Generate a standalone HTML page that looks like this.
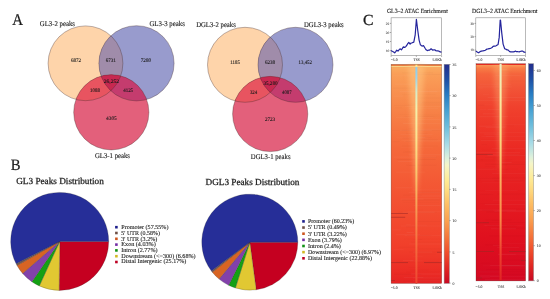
<!DOCTYPE html><html><head><meta charset="utf-8"><style>html,body{margin:0;padding:0;background:#fff;}svg{display:block;will-change:transform;filter:blur(0.3px)}</style></head><body><svg width="550" height="299" viewBox="0 0 550 299" font-family='"Liberation Serif", serif' text-rendering="geometricPrecision">
<rect width="550" height="299" fill="#fff"/>
<text x="12.3" y="25.3" font-size="16.4" fill="#1a1a1a" textLength="10.80" lengthAdjust="spacingAndGlyphs" stroke="#1a1a1a" stroke-width="0.22">A</text>
<text x="10.8" y="170.4" font-size="15.8" fill="#1a1a1a" textLength="9.80" lengthAdjust="spacingAndGlyphs" stroke="#1a1a1a" stroke-width="0.22">B</text>
<text x="363.1" y="24.5" font-size="15.4" fill="#1a1a1a" textLength="10.50" lengthAdjust="spacingAndGlyphs" stroke="#1a1a1a" stroke-width="0.3">C</text>
<defs><clipPath id="vlo"><circle cx="85.5" cy="63.3" r="37.4"/></clipPath><clipPath id="vlb"><circle cx="136.5" cy="63.3" r="37.6"/></clipPath></defs>
<circle cx="85.5" cy="63.3" r="37.4" fill="rgb(254,212,170)"/>
<circle cx="136.5" cy="63.3" r="37.6" fill="rgb(152,155,205)"/>
<circle cx="136.5" cy="63.3" r="37.6" fill="rgb(160,140,170)" clip-path="url(#vlo)"/>
<circle cx="111.3" cy="112.3" r="37.6" fill="rgb(227,96,123)"/>
<circle cx="111.3" cy="112.3" r="37.6" fill="rgb(232,84,96)" clip-path="url(#vlo)"/>
<circle cx="111.3" cy="112.3" r="37.6" fill="rgb(196,60,110)" clip-path="url(#vlb)"/>
<g clip-path="url(#vlo)"><circle cx="111.3" cy="112.3" r="37.6" fill="rgb(200,40,80)" clip-path="url(#vlb)"/></g>
<circle cx="85.5" cy="63.3" r="37.4" fill="none" stroke="rgba(70,45,45,0.6)" stroke-width="0.6"/>
<circle cx="136.5" cy="63.3" r="37.6" fill="none" stroke="rgba(70,45,45,0.6)" stroke-width="0.6"/>
<circle cx="111.3" cy="112.3" r="37.6" fill="none" stroke="rgba(70,45,45,0.6)" stroke-width="0.6"/>
<defs><clipPath id="vro"><circle cx="245" cy="64.8" r="37.5"/></clipPath><clipPath id="vrb"><circle cx="295.5" cy="64.8" r="37.5"/></clipPath></defs>
<circle cx="245" cy="64.8" r="37.5" fill="rgb(254,212,170)"/>
<circle cx="295.5" cy="64.8" r="37.5" fill="rgb(152,155,205)"/>
<circle cx="295.5" cy="64.8" r="37.5" fill="rgb(160,140,170)" clip-path="url(#vro)"/>
<circle cx="270.2" cy="114.0" r="37.6" fill="rgb(227,96,123)"/>
<circle cx="270.2" cy="114.0" r="37.6" fill="rgb(232,84,96)" clip-path="url(#vro)"/>
<circle cx="270.2" cy="114.0" r="37.6" fill="rgb(196,60,110)" clip-path="url(#vrb)"/>
<g clip-path="url(#vro)"><circle cx="270.2" cy="114.0" r="37.6" fill="rgb(200,40,80)" clip-path="url(#vrb)"/></g>
<circle cx="245" cy="64.8" r="37.5" fill="none" stroke="rgba(70,45,45,0.6)" stroke-width="0.6"/>
<circle cx="295.5" cy="64.8" r="37.5" fill="none" stroke="rgba(70,45,45,0.6)" stroke-width="0.6"/>
<circle cx="270.2" cy="114.0" r="37.6" fill="none" stroke="rgba(70,45,45,0.6)" stroke-width="0.6"/>
<text x="39.8" y="26.4" font-size="7.3" fill="#1a1a1a" textLength="35.20" lengthAdjust="spacingAndGlyphs" stroke="#1a1a1a" stroke-width="0.131">GL3-2 peaks</text>
<text x="149.4" y="26.3" font-size="7.3" fill="#1a1a1a" textLength="35.40" lengthAdjust="spacingAndGlyphs" stroke="#1a1a1a" stroke-width="0.131">GL3-3 peaks</text>
<text x="95.0" y="158.4" font-size="7.3" fill="#1a1a1a" textLength="35.00" lengthAdjust="spacingAndGlyphs" stroke="#1a1a1a" stroke-width="0.131">GL3-1 peaks</text>
<text x="196.2" y="26.8" font-size="7.3" fill="#1a1a1a" textLength="39.60" lengthAdjust="spacingAndGlyphs" stroke="#1a1a1a" stroke-width="0.131">DGL3-2 peaks</text>
<text x="304.0" y="26.8" font-size="7.3" fill="#1a1a1a" textLength="39.60" lengthAdjust="spacingAndGlyphs" stroke="#1a1a1a" stroke-width="0.131">DGL3-3 peaks</text>
<text x="250.8" y="159.0" font-size="7.3" fill="#1a1a1a" textLength="39.70" lengthAdjust="spacingAndGlyphs" stroke="#1a1a1a" stroke-width="0.131">DGL3-1 peaks</text>
<text x="70.9" y="61.7" font-size="5.4" fill="#1a1a1a" textLength="10.30" lengthAdjust="spacingAndGlyphs" stroke="#1a1a1a" stroke-width="0.097">6872</text>
<text x="105.7" y="61.7" font-size="5.4" fill="#1a1a1a" textLength="10.00" lengthAdjust="spacingAndGlyphs" stroke="#1a1a1a" stroke-width="0.097">6731</text>
<text x="140.7" y="61.9" font-size="5.4" fill="#1a1a1a" textLength="10.40" lengthAdjust="spacingAndGlyphs" stroke="#1a1a1a" stroke-width="0.097">7280</text>
<text x="103.8" y="82.6" font-size="5.4" fill="#1a1a1a" textLength="15.30" lengthAdjust="spacingAndGlyphs" stroke="#1a1a1a" stroke-width="0.097">26,252</text>
<text x="90.1" y="91.6" font-size="5.4" fill="#1a1a1a" textLength="9.90" lengthAdjust="spacingAndGlyphs" stroke="#1a1a1a" stroke-width="0.097">1088</text>
<text x="123.2" y="91.6" font-size="5.4" fill="#1a1a1a" textLength="9.90" lengthAdjust="spacingAndGlyphs" stroke="#1a1a1a" stroke-width="0.097">4125</text>
<text x="106.0" y="119.7" font-size="5.4" fill="#1a1a1a" textLength="10.80" lengthAdjust="spacingAndGlyphs" stroke="#1a1a1a" stroke-width="0.097">4305</text>
<text x="230.3" y="63.5" font-size="5.4" fill="#1a1a1a" textLength="9.70" lengthAdjust="spacingAndGlyphs" stroke="#1a1a1a" stroke-width="0.097">1185</text>
<text x="264.9" y="63.7" font-size="5.4" fill="#1a1a1a" textLength="10.20" lengthAdjust="spacingAndGlyphs" stroke="#1a1a1a" stroke-width="0.097">6238</text>
<text x="298.5" y="63.7" font-size="5.4" fill="#1a1a1a" textLength="13.50" lengthAdjust="spacingAndGlyphs" stroke="#1a1a1a" stroke-width="0.097">13,452</text>
<text x="263.5" y="84.6" font-size="5.4" fill="#1a1a1a" textLength="14.00" lengthAdjust="spacingAndGlyphs" stroke="#1a1a1a" stroke-width="0.097">35,280</text>
<text x="249.9" y="93.6" font-size="5.4" fill="#1a1a1a" textLength="7.30" lengthAdjust="spacingAndGlyphs" stroke="#1a1a1a" stroke-width="0.097">324</text>
<text x="282.0" y="93.6" font-size="5.4" fill="#1a1a1a" textLength="9.50" lengthAdjust="spacingAndGlyphs" stroke="#1a1a1a" stroke-width="0.097">4087</text>
<text x="264.9" y="121.0" font-size="5.4" fill="#1a1a1a" textLength="10.20" lengthAdjust="spacingAndGlyphs" stroke="#1a1a1a" stroke-width="0.097">2723</text>
<path d="M59.7,241.4 L108.70,241.40 A49,49 0 0 1 59.16,290.40 Z" fill="rgb(197, 0, 32)" stroke="rgba(40,40,40,0.5)" stroke-width="0.45"/>
<path d="M59.7,241.4 L59.16,290.40 A49,49 0 0 1 39.24,285.92 Z" fill="rgb(225, 200, 50)" stroke="rgba(40,40,40,0.5)" stroke-width="0.45"/>
<path d="M59.7,241.4 L39.24,285.92 A49,49 0 0 1 31.84,281.71 Z" fill="rgb(20, 160, 20)" stroke="rgba(40,40,40,0.5)" stroke-width="0.45"/>
<path d="M59.7,241.4 L31.84,281.71 A49,49 0 0 1 22.63,273.44 Z" fill="rgb(130, 65, 170)" stroke="rgba(40,40,40,0.5)" stroke-width="0.45"/>
<path d="M59.7,241.4 L22.63,273.44 A49,49 0 0 1 16.97,265.39 Z" fill="rgb(215, 100, 35)" stroke="rgba(40,40,40,0.5)" stroke-width="0.45"/>
<path d="M59.7,241.4 L16.97,265.39 A49,49 0 0 1 16.13,263.81 Z" fill="rgb(120, 90, 80)" stroke="rgba(40,40,40,0.5)" stroke-width="0.45"/>
<path d="M59.7,241.4 L16.13,263.81 A49,49 0 1 1 108.70,241.40 Z" fill="rgb(38, 46, 152)" stroke="rgba(40,40,40,0.5)" stroke-width="0.45"/>
<path d="M249.8,242.2 L297.80,242.20 A48,48 0 0 1 256.16,289.78 Z" fill="rgb(197, 0, 32)" stroke="rgba(40,40,40,0.5)" stroke-width="0.45"/>
<path d="M249.8,242.2 L256.16,289.78 A48,48 0 0 1 235.38,287.98 Z" fill="rgb(225, 200, 50)" stroke="rgba(40,40,40,0.5)" stroke-width="0.45"/>
<path d="M249.8,242.2 L235.38,287.98 A48,48 0 0 1 228.67,285.30 Z" fill="rgb(20, 160, 20)" stroke="rgba(40,40,40,0.5)" stroke-width="0.45"/>
<path d="M249.8,242.2 L228.67,285.30 A48,48 0 0 1 219.09,279.09 Z" fill="rgb(130, 65, 170)" stroke="rgba(40,40,40,0.5)" stroke-width="0.45"/>
<path d="M249.8,242.2 L219.09,279.09 A48,48 0 0 1 212.31,272.17 Z" fill="rgb(215, 100, 35)" stroke="rgba(40,40,40,0.5)" stroke-width="0.45"/>
<path d="M249.8,242.2 L212.31,272.17 A48,48 0 0 1 211.40,271.00 Z" fill="rgb(120, 90, 80)" stroke="rgba(40,40,40,0.5)" stroke-width="0.45"/>
<path d="M249.8,242.2 L211.40,271.00 A48,48 0 1 1 297.80,242.20 Z" fill="rgb(38, 46, 152)" stroke="rgba(40,40,40,0.5)" stroke-width="0.45"/>
<text x="16.2" y="184.2" font-size="9.2" fill="#1a1a1a" textLength="87.60" lengthAdjust="spacingAndGlyphs" stroke="#1a1a1a" stroke-width="0.25">GL3 Peaks Distribution</text>
<text x="205.6" y="184.5" font-size="9.2" fill="#1a1a1a" textLength="93.80" lengthAdjust="spacingAndGlyphs" stroke="#1a1a1a" stroke-width="0.25">DGL3 Peaks Distribution</text>
<rect x="115.10" y="225.90" width="2.6" height="2.6" fill="rgb(30, 32, 140)"/>
<text x="121.3" y="229.1" font-size="6.1" fill="#1a1a1a" textLength="47.20" lengthAdjust="spacingAndGlyphs" stroke="#1a1a1a" stroke-width="0.11">Promoter (57.55%)</text>
<rect x="115.10" y="231.70" width="2.6" height="2.6" fill="rgb(110, 80, 70)"/>
<text x="121.3" y="234.83" font-size="6.1" fill="#1a1a1a" textLength="38.70" lengthAdjust="spacingAndGlyphs" stroke="#1a1a1a" stroke-width="0.11">5' UTR (0.58%)</text>
<rect x="115.10" y="237.50" width="2.6" height="2.6" fill="rgb(205, 85, 30)"/>
<text x="121.3" y="240.56" font-size="6.1" fill="#1a1a1a" textLength="36.00" lengthAdjust="spacingAndGlyphs" stroke="#1a1a1a" stroke-width="0.11">3' UTR (3.2%)</text>
<rect x="115.10" y="243.30" width="2.6" height="2.6" fill="rgb(115, 45, 165)"/>
<text x="121.3" y="246.29" font-size="6.1" fill="#1a1a1a" textLength="34.50" lengthAdjust="spacingAndGlyphs" stroke="#1a1a1a" stroke-width="0.11">Exon (4.03%)</text>
<rect x="115.10" y="249.10" width="2.6" height="2.6" fill="rgb(15, 145, 20)"/>
<text x="121.3" y="252.02" font-size="6.1" fill="#1a1a1a" textLength="36.20" lengthAdjust="spacingAndGlyphs" stroke="#1a1a1a" stroke-width="0.11">Intron (2.77%)</text>
<rect x="115.10" y="254.90" width="2.6" height="2.6" fill="rgb(210, 185, 35)"/>
<text x="121.3" y="257.75" font-size="6.1" fill="#1a1a1a" textLength="74.30" lengthAdjust="spacingAndGlyphs" stroke="#1a1a1a" stroke-width="0.11">Downstream (&lt;=300) (6.68%)</text>
<rect x="115.10" y="260.70" width="2.6" height="2.6" fill="rgb(190, 0, 35)"/>
<text x="121.3" y="263.48" font-size="6.1" fill="#1a1a1a" textLength="65.10" lengthAdjust="spacingAndGlyphs" stroke="#1a1a1a" stroke-width="0.11">Distal Intergenic (25.17%)</text>
<rect x="302.20" y="220.10" width="2.6" height="2.6" fill="rgb(30, 32, 140)"/>
<text x="307.9" y="223.2" font-size="6.1" fill="#1a1a1a" textLength="46.40" lengthAdjust="spacingAndGlyphs" stroke="#1a1a1a" stroke-width="0.11">Promoter (60.23%)</text>
<rect x="302.20" y="226.25" width="2.6" height="2.6" fill="rgb(110, 80, 70)"/>
<text x="307.9" y="229.37" font-size="6.1" fill="#1a1a1a" textLength="39.00" lengthAdjust="spacingAndGlyphs" stroke="#1a1a1a" stroke-width="0.11">5' UTR (0.49%)</text>
<rect x="302.20" y="232.40" width="2.6" height="2.6" fill="rgb(205, 85, 30)"/>
<text x="307.9" y="235.54" font-size="6.1" fill="#1a1a1a" textLength="39.00" lengthAdjust="spacingAndGlyphs" stroke="#1a1a1a" stroke-width="0.11">3' UTR (3.22%)</text>
<rect x="302.20" y="238.55" width="2.6" height="2.6" fill="rgb(115, 45, 165)"/>
<text x="307.9" y="241.71" font-size="6.1" fill="#1a1a1a" textLength="33.80" lengthAdjust="spacingAndGlyphs" stroke="#1a1a1a" stroke-width="0.11">Exon (3.79%)</text>
<rect x="302.20" y="244.70" width="2.6" height="2.6" fill="rgb(15, 145, 20)"/>
<text x="307.9" y="247.88" font-size="6.1" fill="#1a1a1a" textLength="33.00" lengthAdjust="spacingAndGlyphs" stroke="#1a1a1a" stroke-width="0.11">Intron (2.4%)</text>
<rect x="302.20" y="250.85" width="2.6" height="2.6" fill="rgb(210, 185, 35)"/>
<text x="307.9" y="254.05" font-size="6.1" fill="#1a1a1a" textLength="73.10" lengthAdjust="spacingAndGlyphs" stroke="#1a1a1a" stroke-width="0.11">Downstream (&lt;=300) (6.97%)</text>
<rect x="302.20" y="257.00" width="2.6" height="2.6" fill="rgb(190, 0, 35)"/>
<text x="307.9" y="260.22" font-size="6.1" fill="#1a1a1a" textLength="64.10" lengthAdjust="spacingAndGlyphs" stroke="#1a1a1a" stroke-width="0.11">Distal Intergenic (22.88%)</text>
<text x="386.9" y="13.1" font-size="6.3" fill="#1a1a1a" textLength="60.90" lengthAdjust="spacingAndGlyphs" stroke="#1a1a1a" stroke-width="0.113">GL3–2 ATAC Enrichment</text>
<text x="472.1" y="12.7" font-size="6.3" fill="#1a1a1a" textLength="65.40" lengthAdjust="spacingAndGlyphs" stroke="#1a1a1a" stroke-width="0.113">DGL3–2 ATAC Enrichment</text>
<rect x="391.1" y="17.8" width="50.5" height="37.8" fill="#fff" stroke="#8a8a8a" stroke-width="0.6"/>
<line x1="389.8" y1="23.4" x2="391.1" y2="23.4" stroke="#555" stroke-width="0.5"/>
<text x="389.1" y="24.5" font-size="3.4" fill="#333" text-anchor="end" stroke="#333" stroke-width="0.061">25</text>
<line x1="389.8" y1="32.5" x2="391.1" y2="32.5" stroke="#555" stroke-width="0.5"/>
<text x="389.1" y="33.6" font-size="3.4" fill="#333" text-anchor="end" stroke="#333" stroke-width="0.061">20</text>
<line x1="389.8" y1="41.5" x2="391.1" y2="41.5" stroke="#555" stroke-width="0.5"/>
<text x="389.1" y="42.6" font-size="3.4" fill="#333" text-anchor="end" stroke="#333" stroke-width="0.061">15</text>
<line x1="389.8" y1="50.6" x2="391.1" y2="50.6" stroke="#555" stroke-width="0.5"/>
<text x="389.1" y="51.7" font-size="3.4" fill="#333" text-anchor="end" stroke="#333" stroke-width="0.061">10</text>
<path d="M391.10,50.60 L392.50,51.50 L393.60,51.91 L394.70,52.80 L395.70,51.54 L396.70,50.20 L398.00,51.10 L399.00,49.83 L400.00,48.80 L401.40,49.80 L402.40,48.39 L403.40,46.80 L404.70,47.50 L405.70,46.61 L406.70,45.50 L407.75,43.61 L408.80,42.50 L410.10,44.10 L411.10,43.01 L412.10,42.80 L413.80,42.10 L415.20,34.80 L416.40,19.30 L417.80,30.70 L419.10,40.10 L420.40,44.80 L422.00,46.10 L423.60,45.70 L425.40,48.80 L426.40,50.00 L427.40,50.60 L428.40,50.18 L429.40,50.20 L431.10,48.80 L432.80,50.20 L433.80,49.76 L434.80,49.80 L435.80,50.75 L436.80,50.80 L437.80,50.92 L438.80,51.10 L440.15,51.95 L441.50,52.20" fill="none" stroke="#24249c" stroke-width="1.2" stroke-linejoin="round"/>
<line x1="391.1" y1="55.6" x2="391.1" y2="56.9" stroke="#555" stroke-width="0.5"/>
<line x1="416.35" y1="55.6" x2="416.35" y2="56.9" stroke="#555" stroke-width="0.5"/>
<line x1="441.6" y1="55.6" x2="441.6" y2="56.9" stroke="#555" stroke-width="0.5"/>
<text x="390.70000000000005" y="60.800000000000004" font-size="3.8" fill="#333" text-anchor="start" stroke="#333" stroke-width="0.068">−5.0</text>
<text x="416.65000000000003" y="60.800000000000004" font-size="3.8" fill="#333" text-anchor="middle" stroke="#333" stroke-width="0.068">TSS</text>
<text x="441.8" y="60.800000000000004" font-size="3.8" fill="#333" text-anchor="end" stroke="#333" stroke-width="0.068">5.0Kb</text>
<rect x="475.8" y="17.8" width="49.69999999999999" height="37.7" fill="#fff" stroke="#8a8a8a" stroke-width="0.6"/>
<line x1="474.5" y1="23.4" x2="475.8" y2="23.4" stroke="#555" stroke-width="0.5"/>
<text x="473.8" y="24.5" font-size="3.4" fill="#333" text-anchor="end" stroke="#333" stroke-width="0.061">30</text>
<line x1="474.5" y1="36.7" x2="475.8" y2="36.7" stroke="#555" stroke-width="0.5"/>
<text x="473.8" y="37.800000000000004" font-size="3.4" fill="#333" text-anchor="end" stroke="#333" stroke-width="0.061">20</text>
<line x1="474.5" y1="50.1" x2="475.8" y2="50.1" stroke="#555" stroke-width="0.5"/>
<text x="473.8" y="51.2" font-size="3.4" fill="#333" text-anchor="end" stroke="#333" stroke-width="0.061">10</text>
<path d="M475.80,51.10 L476.77,51.65 L477.73,52.36 L478.70,52.80 L480.05,51.64 L481.40,51.10 L482.70,50.97 L484.00,50.60 L485.35,50.23 L486.70,49.20 L488.05,48.92 L489.40,48.60 L490.30,48.45 L491.20,48.02 L492.10,47.50 L493.10,46.41 L494.10,46.10 L495.10,46.13 L496.10,45.70 L497.10,45.13 L498.10,44.40 L499.20,37.40 L500.20,20.00 L500.50,20.00 L501.80,33.40 L503.10,44.10 L504.70,48.80 L505.70,49.12 L506.70,49.80 L507.70,49.78 L508.70,50.60 L509.70,51.58 L510.70,51.90 L512.05,51.88 L513.40,51.90 L514.40,51.70 L515.40,51.10 L516.40,51.69 L517.40,51.60 L518.30,51.76 L519.20,51.91 L520.10,51.50 L521.45,51.21 L522.80,51.10 L524.10,52.20 L525.50,52.40" fill="none" stroke="#24249c" stroke-width="1.2" stroke-linejoin="round"/>
<line x1="475.8" y1="55.5" x2="475.8" y2="56.8" stroke="#555" stroke-width="0.5"/>
<line x1="500.65" y1="55.5" x2="500.65" y2="56.8" stroke="#555" stroke-width="0.5"/>
<line x1="525.5" y1="55.5" x2="525.5" y2="56.8" stroke="#555" stroke-width="0.5"/>
<text x="475.40000000000003" y="60.7" font-size="3.8" fill="#333" text-anchor="start" stroke="#333" stroke-width="0.068">−5.0</text>
<text x="500.95" y="60.7" font-size="3.8" fill="#333" text-anchor="middle" stroke="#333" stroke-width="0.068">TSS</text>
<text x="525.7" y="60.7" font-size="3.8" fill="#333" text-anchor="end" stroke="#333" stroke-width="0.068">5.0Kb</text>
<defs><linearGradient id="hm391" gradientUnits="userSpaceOnUse" x1="0" y1="64.3" x2="0" y2="283.4"><stop offset="0.0000" stop-color="rgb(235,120,60)"/><stop offset="0.0078" stop-color="rgb(235,125,62)"/><stop offset="0.0100" stop-color="rgb(250,215,140)"/><stop offset="0.0146" stop-color="rgb(250,170,95)"/><stop offset="0.0443" stop-color="rgb(250,158,88)"/><stop offset="0.1995" stop-color="rgb(247,132,72)"/><stop offset="0.3820" stop-color="rgb(245,104,58)"/><stop offset="0.6102" stop-color="rgb(243,82,50)"/><stop offset="0.8384" stop-color="rgb(241,62,42)"/><stop offset="0.9571" stop-color="rgb(234,42,36)"/><stop offset="1.0000" stop-color="rgb(228,35,35)"/></linearGradient></defs>
<rect x="391.1" y="64.3" width="50.60" height="219.10" fill="url(#hm391)"/>
<rect x="413.3" y="239.0" width="9.4" height="1" fill="#000" opacity="0.017"/>
<rect x="402.1" y="94.0" width="33.6" height="1" fill="#000" opacity="0.013"/>
<rect x="400.0" y="130.0" width="31.7" height="1" fill="#fff" opacity="0.035"/>
<rect x="414.6" y="191.7" width="27.1" height="1" fill="#000" opacity="0.024"/>
<rect x="412.9" y="280.4" width="28.8" height="1" fill="#fff" opacity="0.040"/>
<rect x="396.4" y="261.6" width="42.9" height="1" fill="#000" opacity="0.019"/>
<rect x="412.7" y="189.4" width="29.0" height="1" fill="#fff" opacity="0.029"/>
<rect x="394.9" y="83.6" width="18.4" height="1" fill="#fff" opacity="0.044"/>
<rect x="406.6" y="232.0" width="7.0" height="1" fill="#fff" opacity="0.046"/>
<rect x="415.9" y="221.0" width="25.8" height="1" fill="#000" opacity="0.015"/>
<rect x="406.3" y="282.1" width="6.4" height="1" fill="#fff" opacity="0.029"/>
<rect x="395.1" y="107.3" width="6.9" height="1" fill="#000" opacity="0.016"/>
<rect x="413.8" y="253.6" width="22.2" height="1" fill="#000" opacity="0.015"/>
<rect x="406.2" y="164.7" width="30.5" height="1" fill="#000" opacity="0.018"/>
<rect x="402.0" y="199.5" width="37.8" height="1" fill="#000" opacity="0.024"/>
<rect x="404.3" y="116.1" width="30.0" height="1" fill="#000" opacity="0.015"/>
<rect x="391.6" y="66.8" width="33.1" height="1" fill="#000" opacity="0.016"/>
<rect x="402.9" y="202.2" width="36.0" height="1" fill="#000" opacity="0.011"/>
<rect x="391.7" y="141.2" width="7.8" height="1" fill="#000" opacity="0.021"/>
<rect x="402.6" y="211.7" width="32.0" height="1" fill="#fff" opacity="0.049"/>
<rect x="400.4" y="134.1" width="32.2" height="1" fill="#fff" opacity="0.031"/>
<rect x="391.8" y="129.8" width="31.0" height="1" fill="#000" opacity="0.016"/>
<rect x="411.4" y="224.6" width="15.9" height="1" fill="#fff" opacity="0.029"/>
<rect x="393.7" y="105.2" width="19.7" height="1" fill="#000" opacity="0.017"/>
<rect x="412.7" y="137.1" width="12.7" height="1" fill="#fff" opacity="0.045"/>
<rect x="402.5" y="137.7" width="15.3" height="1" fill="#000" opacity="0.020"/>
<rect x="411.5" y="90.7" width="30.2" height="1" fill="#fff" opacity="0.036"/>
<rect x="407.3" y="104.3" width="34.4" height="1" fill="#000" opacity="0.014"/>
<rect x="411.2" y="139.6" width="17.4" height="1" fill="#fff" opacity="0.024"/>
<rect x="401.5" y="139.8" width="40.2" height="1" fill="#fff" opacity="0.033"/>
<rect x="413.4" y="98.3" width="28.3" height="1" fill="#000" opacity="0.010"/>
<rect x="396.7" y="159.0" width="39.0" height="1" fill="#000" opacity="0.024"/>
<rect x="398.4" y="246.8" width="20.6" height="1" fill="#000" opacity="0.020"/>
<rect x="398.4" y="113.9" width="41.9" height="1" fill="#000" opacity="0.011"/>
<rect x="414.5" y="74.1" width="27.2" height="1" fill="#000" opacity="0.024"/>
<rect x="410.0" y="260.5" width="12.8" height="1" fill="#fff" opacity="0.037"/>
<rect x="401.6" y="129.7" width="40.1" height="1" fill="#000" opacity="0.020"/>
<rect x="412.9" y="197.8" width="26.8" height="1" fill="#fff" opacity="0.030"/>
<rect x="404.6" y="234.9" width="37.1" height="1" fill="#fff" opacity="0.031"/>
<rect x="411.5" y="101.7" width="30.2" height="1" fill="#000" opacity="0.022"/>
<rect x="392.4" y="65.9" width="17.4" height="1" fill="#000" opacity="0.019"/>
<rect x="403.1" y="122.9" width="38.6" height="1" fill="#fff" opacity="0.036"/>
<rect x="394.3" y="64.7" width="8.1" height="1" fill="#fff" opacity="0.022"/>
<rect x="403.8" y="276.9" width="19.4" height="1" fill="#fff" opacity="0.046"/>
<rect x="405.9" y="132.9" width="21.5" height="1" fill="#000" opacity="0.015"/>
<rect x="405.2" y="106.0" width="36.5" height="1" fill="#fff" opacity="0.030"/>
<rect x="400.5" y="147.2" width="32.6" height="1" fill="#fff" opacity="0.022"/>
<rect x="406.9" y="235.0" width="24.7" height="1" fill="#000" opacity="0.016"/>
<rect x="401.7" y="145.5" width="36.7" height="1" fill="#000" opacity="0.017"/>
<rect x="408.7" y="164.8" width="8.3" height="1" fill="#000" opacity="0.014"/>
<rect x="414.8" y="157.0" width="22.1" height="1" fill="#000" opacity="0.016"/>
<rect x="402.8" y="260.1" width="10.6" height="1" fill="#fff" opacity="0.044"/>
<rect x="411.1" y="241.7" width="30.6" height="1" fill="#000" opacity="0.020"/>
<rect x="406.0" y="224.3" width="5.2" height="1" fill="#fff" opacity="0.037"/>
<rect x="393.4" y="95.6" width="9.5" height="1" fill="#fff" opacity="0.043"/>
<rect x="412.4" y="256.3" width="10.5" height="1" fill="#fff" opacity="0.025"/>
<rect x="415.2" y="248.4" width="26.5" height="1" fill="#000" opacity="0.020"/>
<rect x="404.0" y="238.5" width="37.6" height="1" fill="#000" opacity="0.011"/>
<rect x="392.6" y="87.6" width="19.8" height="1" fill="#000" opacity="0.021"/>
<rect x="395.6" y="187.3" width="16.4" height="1" fill="#fff" opacity="0.045"/>
<rect x="400.4" y="198.6" width="23.1" height="1" fill="#fff" opacity="0.043"/>
<rect x="403.8" y="140.7" width="37.9" height="1" fill="#fff" opacity="0.033"/>
<rect x="408.6" y="154.3" width="33.1" height="1" fill="#fff" opacity="0.042"/>
<rect x="407.4" y="211.3" width="34.3" height="1" fill="#fff" opacity="0.036"/>
<rect x="414.3" y="96.9" width="27.4" height="1" fill="#000" opacity="0.011"/>
<rect x="397.9" y="160.9" width="14.1" height="1" fill="#fff" opacity="0.042"/>
<rect x="408.6" y="192.0" width="33.1" height="1" fill="#fff" opacity="0.029"/>
<rect x="412.7" y="128.8" width="29.0" height="1" fill="#fff" opacity="0.041"/>
<rect x="403.2" y="122.6" width="22.5" height="1" fill="#fff" opacity="0.027"/>
<rect x="410.7" y="101.9" width="11.5" height="1" fill="#fff" opacity="0.031"/>
<rect x="402.9" y="280.5" width="38.8" height="1" fill="#000" opacity="0.017"/>
<rect x="409.3" y="243.5" width="32.4" height="1" fill="#fff" opacity="0.037"/>
<rect x="402.9" y="151.6" width="15.5" height="1" fill="#000" opacity="0.021"/>
<rect x="415.4" y="115.5" width="26.3" height="1" fill="#000" opacity="0.021"/>
<rect x="395.8" y="117.1" width="37.1" height="1" fill="#fff" opacity="0.026"/>
<rect x="413.0" y="251.6" width="19.3" height="1" fill="#fff" opacity="0.047"/>
<rect x="393.4" y="156.6" width="43.0" height="1" fill="#fff" opacity="0.042"/>
<rect x="408.2" y="127.9" width="5.3" height="1" fill="#000" opacity="0.015"/>
<rect x="396.4" y="137.3" width="31.7" height="1" fill="#fff" opacity="0.033"/>
<rect x="394.1" y="272.7" width="17.5" height="1" fill="#000" opacity="0.016"/>
<rect x="414.1" y="209.4" width="9.4" height="1" fill="#000" opacity="0.012"/>
<rect x="410.3" y="269.6" width="18.5" height="1" fill="#000" opacity="0.016"/>
<rect x="397.8" y="211.7" width="39.4" height="1" fill="#000" opacity="0.020"/>
<rect x="394.0" y="274.0" width="27.5" height="1" fill="#000" opacity="0.020"/>
<rect x="405.4" y="141.1" width="13.3" height="1" fill="#000" opacity="0.021"/>
<rect x="413.6" y="205.1" width="28.1" height="1" fill="#fff" opacity="0.039"/>
<rect x="399.5" y="91.2" width="37.9" height="1" fill="#fff" opacity="0.048"/>
<rect x="402.7" y="194.6" width="19.2" height="1" fill="#000" opacity="0.018"/>
<rect x="410.2" y="102.8" width="29.8" height="1" fill="#000" opacity="0.011"/>
<rect x="400.8" y="225.6" width="40.9" height="1" fill="#fff" opacity="0.031"/>
<rect x="410.6" y="73.5" width="21.1" height="1" fill="#fff" opacity="0.035"/>
<rect x="410.6" y="136.9" width="21.1" height="1" fill="#000" opacity="0.016"/>
<rect x="393.6" y="249.0" width="10.1" height="1" fill="#fff" opacity="0.023"/>
<rect x="395.9" y="234.2" width="24.0" height="1" fill="#fff" opacity="0.042"/>
<rect x="406.1" y="226.4" width="11.7" height="1" fill="#000" opacity="0.022"/>
<rect x="405.5" y="151.2" width="14.2" height="1" fill="#000" opacity="0.013"/>
<rect x="411.4" y="118.9" width="30.3" height="1" fill="#fff" opacity="0.043"/>
<rect x="405.9" y="271.3" width="33.9" height="1" fill="#000" opacity="0.016"/>
<rect x="412.9" y="277.4" width="27.1" height="1" fill="#fff" opacity="0.041"/>
<rect x="410.6" y="195.5" width="31.1" height="1" fill="#fff" opacity="0.042"/>
<rect x="396.0" y="171.6" width="29.1" height="1" fill="#fff" opacity="0.036"/>
<rect x="402.3" y="72.4" width="30.8" height="1" fill="#000" opacity="0.018"/>
<rect x="411.1" y="273.5" width="30.6" height="1" fill="#fff" opacity="0.047"/>
<rect x="393.1" y="75.3" width="29.6" height="1" fill="#fff" opacity="0.031"/>
<rect x="408.7" y="267.1" width="11.1" height="1" fill="#000" opacity="0.015"/>
<rect x="409.2" y="251.5" width="32.5" height="1" fill="#000" opacity="0.019"/>
<rect x="412.9" y="139.2" width="24.9" height="1" fill="#000" opacity="0.022"/>
<rect x="392.2" y="229.4" width="8.6" height="1" fill="#fff" opacity="0.035"/>
<rect x="408.8" y="108.0" width="29.5" height="1" fill="#fff" opacity="0.025"/>
<defs><linearGradient id="ts391" gradientUnits="userSpaceOnUse" x1="0" y1="64.3" x2="0" y2="283.4"><stop offset="0.0000" stop-color="rgb(250,220,120)"/><stop offset="0.0100" stop-color="rgb(250,230,150)"/><stop offset="0.0146" stop-color="rgb(140,205,235)"/><stop offset="0.0625" stop-color="rgb(155,212,235)"/><stop offset="0.1264" stop-color="rgb(215,235,200)"/><stop offset="0.2086" stop-color="rgb(245,240,170)"/><stop offset="0.3455" stop-color="rgb(252,225,140)"/><stop offset="0.4824" stop-color="rgb(250,200,112)"/><stop offset="0.6194" stop-color="rgb(248,165,90)"/><stop offset="0.8019" stop-color="rgb(245,115,65)"/><stop offset="1.0000" stop-color="rgb(238,70,48)"/></linearGradient></defs>
<defs><filter id="bl391" x="-50%" y="-10%" width="200%" height="120%"><feGaussianBlur stdDeviation="2.5"/></filter></defs>
<path d="M408.40,65.3 L424.40,65.3 L416.90,194.3 L415.90,194.3 Z" fill="rgb(255,200,130)" opacity="0.55" filter="url(#bl391)"/>
<rect x="415.10" y="64.3" width="2.5999999999999996" height="219.10" fill="url(#ts391)" opacity="0.45"/>
<rect x="415.70" y="64.3" width="1.4" height="219.10" fill="url(#ts391)"/>
<rect x="391.1" y="64.3" width="50.60" height="219.10" fill="none" stroke="rgba(80,40,30,0.6)" stroke-width="0.45"/>
<rect x="391.1" y="213.25" width="16.799999999999955" height="0.7" fill="rgb(155,40,38)" opacity="0.75"/>
<rect x="391.1" y="216.85" width="14.099999999999966" height="0.7" fill="rgb(155,40,38)" opacity="0.75"/>
<rect x="391.1" y="262.34999999999997" width="16.899999999999977" height="0.7" fill="rgb(155,40,38)" opacity="0.75"/>
<rect x="424" y="262.34999999999997" width="17.69999999999999" height="0.7" fill="rgb(155,40,38)" opacity="0.75"/>
<rect x="437" y="251.85" width="4.699999999999989" height="0.7" fill="rgb(155,40,38)" opacity="0.75"/>
<rect x="391.1" y="280.15" width="3.8999999999999773" height="0.7" fill="rgb(155,40,38)" opacity="0.75"/>
<defs><linearGradient id="cb391" x1="0" y1="1" x2="0" y2="0"><stop offset="0.000" stop-color="rgb(200,10,35)"/><stop offset="0.070" stop-color="rgb(225,40,35)"/><stop offset="0.143" stop-color="rgb(240,80,45)"/><stop offset="0.212" stop-color="rgb(245,120,60)"/><stop offset="0.285" stop-color="rgb(250,160,80)"/><stop offset="0.358" stop-color="rgb(253,190,100)"/><stop offset="0.426" stop-color="rgb(254,220,130)"/><stop offset="0.472" stop-color="rgb(254,235,150)"/><stop offset="0.540" stop-color="rgb(245,245,200)"/><stop offset="0.572" stop-color="rgb(220,240,220)"/><stop offset="0.632" stop-color="rgb(170,220,230)"/><stop offset="0.714" stop-color="rgb(110,190,220)"/><stop offset="0.791" stop-color="rgb(70,160,210)"/><stop offset="0.860" stop-color="rgb(40,125,195)"/><stop offset="0.928" stop-color="rgb(30,80,165)"/><stop offset="1.000" stop-color="rgb(35,45,140)"/></linearGradient></defs>
<rect x="444.1" y="64.3" width="5.30" height="219.10" fill="url(#cb391)" stroke="#8a8a8a" stroke-width="0.45"/>
<line x1="449.4" y1="64.5" x2="450.59999999999997" y2="64.5" stroke="#555" stroke-width="0.5"/>
<text x="452.59999999999997" y="66.2" font-size="3.9" fill="#333" text-anchor="start" stroke="#333" stroke-width="0.07">35</text>
<line x1="449.4" y1="95.6" x2="450.59999999999997" y2="95.6" stroke="#555" stroke-width="0.5"/>
<text x="452.59999999999997" y="97.3" font-size="3.9" fill="#333" text-anchor="start" stroke="#333" stroke-width="0.07">30</text>
<line x1="449.4" y1="126.9" x2="450.59999999999997" y2="126.9" stroke="#555" stroke-width="0.5"/>
<text x="452.59999999999997" y="128.6" font-size="3.9" fill="#333" text-anchor="start" stroke="#333" stroke-width="0.07">25</text>
<line x1="449.4" y1="158.1" x2="450.59999999999997" y2="158.1" stroke="#555" stroke-width="0.5"/>
<text x="452.59999999999997" y="159.79999999999998" font-size="3.9" fill="#333" text-anchor="start" stroke="#333" stroke-width="0.07">20</text>
<line x1="449.4" y1="189.4" x2="450.59999999999997" y2="189.4" stroke="#555" stroke-width="0.5"/>
<text x="452.59999999999997" y="191.1" font-size="3.9" fill="#333" text-anchor="start" stroke="#333" stroke-width="0.07">15</text>
<line x1="449.4" y1="220.6" x2="450.59999999999997" y2="220.6" stroke="#555" stroke-width="0.5"/>
<text x="452.59999999999997" y="222.29999999999998" font-size="3.9" fill="#333" text-anchor="start" stroke="#333" stroke-width="0.07">10</text>
<line x1="449.4" y1="251.9" x2="450.59999999999997" y2="251.9" stroke="#555" stroke-width="0.5"/>
<text x="452.59999999999997" y="253.6" font-size="3.9" fill="#333" text-anchor="start" stroke="#333" stroke-width="0.07">5</text>
<line x1="449.4" y1="283.1" x2="450.59999999999997" y2="283.1" stroke="#555" stroke-width="0.5"/>
<text x="452.59999999999997" y="284.8" font-size="3.9" fill="#333" text-anchor="start" stroke="#333" stroke-width="0.07">0</text>
<text x="390.70000000000005" y="288.8" font-size="3.8" fill="#333" text-anchor="start" stroke="#333" stroke-width="0.068">−5.0</text>
<text x="416.7" y="288.8" font-size="3.8" fill="#333" text-anchor="middle" stroke="#333" stroke-width="0.068">TSS</text>
<text x="441.9" y="288.8" font-size="3.8" fill="#333" text-anchor="end" stroke="#333" stroke-width="0.068">5.0Kb</text>
<defs><linearGradient id="hm476" gradientUnits="userSpaceOnUse" x1="0" y1="63.7" x2="0" y2="280.9"><stop offset="0.0000" stop-color="rgb(225,35,30)"/><stop offset="0.0051" stop-color="rgb(228,45,35)"/><stop offset="0.0083" stop-color="rgb(250,150,85)"/><stop offset="0.0198" stop-color="rgb(248,125,70)"/><stop offset="0.0474" stop-color="rgb(245,100,60)"/><stop offset="0.1073" stop-color="rgb(242,85,55)"/><stop offset="0.1994" stop-color="rgb(240,65,45)"/><stop offset="0.3881" stop-color="rgb(235,42,35)"/><stop offset="0.8025" stop-color="rgb(224,16,30)"/><stop offset="1.0000" stop-color="rgb(212,8,34)"/></linearGradient></defs>
<rect x="476" y="63.7" width="49.60" height="217.20" fill="url(#hm476)"/>
<rect x="487.5" y="155.0" width="38.1" height="1" fill="#fff" opacity="0.039"/>
<rect x="493.8" y="150.5" width="21.4" height="1" fill="#000" opacity="0.013"/>
<rect x="481.6" y="143.9" width="5.1" height="1" fill="#000" opacity="0.018"/>
<rect x="487.4" y="108.9" width="13.7" height="1" fill="#fff" opacity="0.043"/>
<rect x="480.2" y="108.9" width="6.2" height="1" fill="#fff" opacity="0.025"/>
<rect x="477.5" y="87.5" width="6.0" height="1" fill="#fff" opacity="0.025"/>
<rect x="477.3" y="160.6" width="23.0" height="1" fill="#000" opacity="0.016"/>
<rect x="481.4" y="149.4" width="9.2" height="1" fill="#000" opacity="0.010"/>
<rect x="484.6" y="166.3" width="10.5" height="1" fill="#000" opacity="0.012"/>
<rect x="495.5" y="74.9" width="25.8" height="1" fill="#fff" opacity="0.042"/>
<rect x="482.6" y="265.4" width="41.3" height="1" fill="#fff" opacity="0.029"/>
<rect x="492.9" y="199.7" width="32.7" height="1" fill="#fff" opacity="0.030"/>
<rect x="478.2" y="191.7" width="12.6" height="1" fill="#fff" opacity="0.020"/>
<rect x="498.3" y="71.6" width="14.0" height="1" fill="#000" opacity="0.011"/>
<rect x="498.8" y="274.2" width="26.8" height="1" fill="#000" opacity="0.017"/>
<rect x="499.5" y="71.1" width="8.9" height="1" fill="#000" opacity="0.015"/>
<rect x="485.7" y="127.1" width="19.9" height="1" fill="#fff" opacity="0.045"/>
<rect x="494.3" y="210.7" width="31.3" height="1" fill="#fff" opacity="0.048"/>
<rect x="485.0" y="244.4" width="23.5" height="1" fill="#000" opacity="0.018"/>
<rect x="482.7" y="113.3" width="12.6" height="1" fill="#fff" opacity="0.043"/>
<rect x="485.6" y="219.5" width="26.7" height="1" fill="#000" opacity="0.019"/>
<rect x="487.6" y="97.0" width="38.0" height="1" fill="#fff" opacity="0.041"/>
<rect x="496.9" y="210.1" width="28.7" height="1" fill="#fff" opacity="0.023"/>
<rect x="498.2" y="253.6" width="27.4" height="1" fill="#fff" opacity="0.046"/>
<rect x="485.9" y="135.8" width="39.7" height="1" fill="#fff" opacity="0.031"/>
<rect x="478.0" y="86.4" width="34.0" height="1" fill="#fff" opacity="0.037"/>
<rect x="492.0" y="115.7" width="31.1" height="1" fill="#fff" opacity="0.021"/>
<rect x="481.5" y="66.2" width="30.1" height="1" fill="#000" opacity="0.013"/>
<rect x="495.6" y="154.4" width="28.9" height="1" fill="#000" opacity="0.022"/>
<rect x="496.5" y="104.4" width="10.0" height="1" fill="#fff" opacity="0.025"/>
<rect x="498.2" y="68.9" width="8.8" height="1" fill="#fff" opacity="0.049"/>
<rect x="491.3" y="164.3" width="33.6" height="1" fill="#000" opacity="0.013"/>
<rect x="491.0" y="228.3" width="24.9" height="1" fill="#fff" opacity="0.046"/>
<rect x="496.2" y="87.7" width="14.2" height="1" fill="#000" opacity="0.023"/>
<rect x="477.9" y="180.3" width="20.4" height="1" fill="#000" opacity="0.017"/>
<rect x="494.2" y="168.5" width="23.9" height="1" fill="#000" opacity="0.011"/>
<rect x="484.7" y="203.9" width="40.9" height="1" fill="#fff" opacity="0.038"/>
<rect x="481.4" y="136.2" width="12.4" height="1" fill="#fff" opacity="0.033"/>
<rect x="500.5" y="265.0" width="25.1" height="1" fill="#000" opacity="0.021"/>
<rect x="499.5" y="265.1" width="26.1" height="1" fill="#fff" opacity="0.036"/>
<rect x="486.1" y="269.0" width="39.5" height="1" fill="#000" opacity="0.017"/>
<rect x="480.6" y="262.7" width="9.3" height="1" fill="#000" opacity="0.014"/>
<rect x="491.9" y="219.9" width="6.8" height="1" fill="#000" opacity="0.014"/>
<rect x="484.6" y="224.8" width="38.1" height="1" fill="#fff" opacity="0.028"/>
<rect x="483.4" y="225.2" width="23.3" height="1" fill="#fff" opacity="0.029"/>
<rect x="493.4" y="80.5" width="32.2" height="1" fill="#000" opacity="0.012"/>
<rect x="480.0" y="275.5" width="18.9" height="1" fill="#fff" opacity="0.046"/>
<rect x="484.9" y="163.8" width="40.7" height="1" fill="#000" opacity="0.018"/>
<rect x="496.0" y="125.4" width="18.3" height="1" fill="#000" opacity="0.017"/>
<rect x="479.3" y="116.2" width="28.7" height="1" fill="#fff" opacity="0.044"/>
<rect x="481.1" y="179.5" width="39.3" height="1" fill="#fff" opacity="0.025"/>
<rect x="500.3" y="164.4" width="6.6" height="1" fill="#000" opacity="0.025"/>
<rect x="484.4" y="103.7" width="7.3" height="1" fill="#fff" opacity="0.020"/>
<rect x="482.1" y="181.7" width="40.8" height="1" fill="#fff" opacity="0.023"/>
<rect x="486.7" y="154.1" width="33.0" height="1" fill="#fff" opacity="0.028"/>
<rect x="482.1" y="209.7" width="11.1" height="1" fill="#000" opacity="0.024"/>
<rect x="496.6" y="227.6" width="29.0" height="1" fill="#000" opacity="0.022"/>
<rect x="491.9" y="124.1" width="33.7" height="1" fill="#fff" opacity="0.025"/>
<rect x="499.0" y="259.6" width="26.6" height="1" fill="#000" opacity="0.017"/>
<rect x="480.2" y="194.0" width="13.2" height="1" fill="#000" opacity="0.016"/>
<rect x="486.1" y="211.5" width="20.7" height="1" fill="#000" opacity="0.025"/>
<rect x="499.8" y="162.0" width="11.9" height="1" fill="#fff" opacity="0.044"/>
<rect x="497.1" y="131.8" width="28.5" height="1" fill="#fff" opacity="0.036"/>
<rect x="490.2" y="265.1" width="29.5" height="1" fill="#fff" opacity="0.038"/>
<rect x="498.6" y="169.1" width="9.6" height="1" fill="#000" opacity="0.014"/>
<rect x="498.2" y="208.3" width="27.4" height="1" fill="#000" opacity="0.016"/>
<rect x="480.5" y="202.8" width="22.1" height="1" fill="#000" opacity="0.013"/>
<rect x="499.6" y="242.8" width="26.0" height="1" fill="#fff" opacity="0.029"/>
<rect x="479.3" y="132.3" width="16.2" height="1" fill="#fff" opacity="0.032"/>
<rect x="481.0" y="275.6" width="8.5" height="1" fill="#fff" opacity="0.022"/>
<rect x="491.7" y="177.5" width="33.9" height="1" fill="#000" opacity="0.021"/>
<rect x="477.7" y="64.9" width="16.9" height="1" fill="#000" opacity="0.014"/>
<rect x="477.2" y="168.1" width="15.5" height="1" fill="#000" opacity="0.014"/>
<rect x="480.4" y="270.7" width="45.2" height="1" fill="#000" opacity="0.012"/>
<rect x="477.4" y="209.5" width="38.9" height="1" fill="#fff" opacity="0.039"/>
<rect x="497.7" y="101.8" width="7.2" height="1" fill="#000" opacity="0.013"/>
<rect x="478.7" y="271.4" width="22.4" height="1" fill="#fff" opacity="0.036"/>
<rect x="479.6" y="277.2" width="10.7" height="1" fill="#fff" opacity="0.028"/>
<rect x="480.8" y="139.9" width="44.8" height="1" fill="#fff" opacity="0.047"/>
<rect x="484.8" y="279.2" width="40.8" height="1" fill="#fff" opacity="0.049"/>
<rect x="476.5" y="168.6" width="20.4" height="1" fill="#fff" opacity="0.041"/>
<rect x="487.5" y="225.5" width="29.0" height="1" fill="#000" opacity="0.022"/>
<rect x="481.0" y="159.3" width="31.5" height="1" fill="#000" opacity="0.018"/>
<rect x="499.9" y="265.4" width="25.7" height="1" fill="#fff" opacity="0.045"/>
<rect x="477.3" y="100.0" width="48.3" height="1" fill="#fff" opacity="0.028"/>
<rect x="476.3" y="152.2" width="43.8" height="1" fill="#fff" opacity="0.046"/>
<rect x="489.0" y="235.4" width="36.6" height="1" fill="#000" opacity="0.025"/>
<rect x="479.6" y="83.7" width="31.8" height="1" fill="#fff" opacity="0.036"/>
<rect x="483.9" y="133.6" width="21.0" height="1" fill="#fff" opacity="0.035"/>
<rect x="497.4" y="193.6" width="28.2" height="1" fill="#000" opacity="0.025"/>
<rect x="479.1" y="125.7" width="27.3" height="1" fill="#fff" opacity="0.049"/>
<rect x="483.0" y="222.0" width="42.6" height="1" fill="#000" opacity="0.015"/>
<rect x="497.7" y="161.6" width="27.9" height="1" fill="#000" opacity="0.017"/>
<rect x="477.7" y="178.0" width="24.0" height="1" fill="#000" opacity="0.017"/>
<rect x="497.2" y="246.9" width="22.1" height="1" fill="#fff" opacity="0.043"/>
<rect x="489.6" y="275.9" width="36.0" height="1" fill="#fff" opacity="0.031"/>
<rect x="485.0" y="156.9" width="18.4" height="1" fill="#000" opacity="0.023"/>
<rect x="492.2" y="173.0" width="33.4" height="1" fill="#fff" opacity="0.032"/>
<rect x="485.2" y="190.1" width="32.4" height="1" fill="#fff" opacity="0.024"/>
<rect x="483.0" y="93.9" width="6.3" height="1" fill="#fff" opacity="0.022"/>
<rect x="494.3" y="180.2" width="31.3" height="1" fill="#000" opacity="0.024"/>
<rect x="492.9" y="244.8" width="10.4" height="1" fill="#fff" opacity="0.047"/>
<rect x="498.1" y="254.0" width="17.8" height="1" fill="#fff" opacity="0.031"/>
<rect x="478.1" y="104.8" width="6.3" height="1" fill="#000" opacity="0.022"/>
<rect x="480.6" y="139.6" width="17.2" height="1" fill="#000" opacity="0.010"/>
<rect x="491.6" y="147.8" width="34.0" height="1" fill="#fff" opacity="0.035"/>
<rect x="493.1" y="158.0" width="8.7" height="1" fill="#000" opacity="0.011"/>
<rect x="477.6" y="159.2" width="5.4" height="1" fill="#000" opacity="0.021"/>
<defs><linearGradient id="ts476" gradientUnits="userSpaceOnUse" x1="0" y1="63.7" x2="0" y2="280.9"><stop offset="0.0000" stop-color="rgb(235,240,200)"/><stop offset="0.1671" stop-color="rgb(250,235,160)"/><stop offset="0.3513" stop-color="rgb(250,215,125)"/><stop offset="0.5355" stop-color="rgb(250,175,95)"/><stop offset="0.7196" stop-color="rgb(248,135,70)"/><stop offset="0.8577" stop-color="rgb(238,70,48)"/><stop offset="1.0000" stop-color="rgb(225,35,35)"/></linearGradient></defs>
<defs><filter id="bl476" x="-50%" y="-10%" width="200%" height="120%"><feGaussianBlur stdDeviation="2.5"/></filter></defs>
<path d="M493.60,64.7 L507.60,64.7 L501.10,173.7 L500.10,173.7 Z" fill="rgb(255,200,130)" opacity="0.3" filter="url(#bl476)"/>
<rect x="499.25" y="63.7" width="2.7" height="217.20" fill="url(#ts476)" opacity="0.45"/>
<rect x="499.85" y="63.7" width="1.5" height="217.20" fill="url(#ts476)"/>
<rect x="476" y="63.7" width="49.60" height="217.20" fill="none" stroke="rgba(80,40,30,0.6)" stroke-width="0.45"/>
<rect x="476" y="153.95000000000002" width="16.80000000000001" height="0.7" fill="rgb(155,40,38)" opacity="0.75"/>
<rect x="476" y="222.45000000000002" width="13" height="0.7" fill="rgb(155,40,38)" opacity="0.75"/>
<rect x="476" y="251.15" width="18" height="0.7" fill="rgb(155,40,38)" opacity="0.75"/>
<rect x="509" y="251.15" width="16.5" height="0.7" fill="rgb(155,40,38)" opacity="0.75"/>
<rect x="521" y="260.34999999999997" width="4.5" height="0.7" fill="rgb(155,40,38)" opacity="0.75"/>
<rect x="476" y="277.65" width="6" height="0.7" fill="rgb(155,40,38)" opacity="0.75"/>
<defs><linearGradient id="cb476" x1="0" y1="1" x2="0" y2="0"><stop offset="0.000" stop-color="rgb(200,10,35)"/><stop offset="0.070" stop-color="rgb(225,40,35)"/><stop offset="0.143" stop-color="rgb(240,80,45)"/><stop offset="0.212" stop-color="rgb(245,120,60)"/><stop offset="0.285" stop-color="rgb(250,160,80)"/><stop offset="0.358" stop-color="rgb(253,190,100)"/><stop offset="0.426" stop-color="rgb(254,220,130)"/><stop offset="0.472" stop-color="rgb(254,235,150)"/><stop offset="0.540" stop-color="rgb(245,245,200)"/><stop offset="0.572" stop-color="rgb(220,240,220)"/><stop offset="0.632" stop-color="rgb(170,220,230)"/><stop offset="0.714" stop-color="rgb(110,190,220)"/><stop offset="0.791" stop-color="rgb(70,160,210)"/><stop offset="0.860" stop-color="rgb(40,125,195)"/><stop offset="0.928" stop-color="rgb(30,80,165)"/><stop offset="1.000" stop-color="rgb(35,45,140)"/></linearGradient></defs>
<rect x="528.5" y="63.7" width="5.10" height="217.20" fill="url(#cb476)" stroke="#8a8a8a" stroke-width="0.45"/>
<line x1="533.6" y1="70.5" x2="534.8000000000001" y2="70.5" stroke="#555" stroke-width="0.5"/>
<text x="536.8000000000001" y="72.2" font-size="3.9" fill="#333" text-anchor="start" stroke="#333" stroke-width="0.07">60</text>
<line x1="533.6" y1="105.5" x2="534.8000000000001" y2="105.5" stroke="#555" stroke-width="0.5"/>
<text x="536.8000000000001" y="107.2" font-size="3.9" fill="#333" text-anchor="start" stroke="#333" stroke-width="0.07">50</text>
<line x1="533.6" y1="140.5" x2="534.8000000000001" y2="140.5" stroke="#555" stroke-width="0.5"/>
<text x="536.8000000000001" y="142.2" font-size="3.9" fill="#333" text-anchor="start" stroke="#333" stroke-width="0.07">40</text>
<line x1="533.6" y1="175.6" x2="534.8000000000001" y2="175.6" stroke="#555" stroke-width="0.5"/>
<text x="536.8000000000001" y="177.29999999999998" font-size="3.9" fill="#333" text-anchor="start" stroke="#333" stroke-width="0.07">30</text>
<line x1="533.6" y1="210.6" x2="534.8000000000001" y2="210.6" stroke="#555" stroke-width="0.5"/>
<text x="536.8000000000001" y="212.29999999999998" font-size="3.9" fill="#333" text-anchor="start" stroke="#333" stroke-width="0.07">20</text>
<line x1="533.6" y1="245.7" x2="534.8000000000001" y2="245.7" stroke="#555" stroke-width="0.5"/>
<text x="536.8000000000001" y="247.39999999999998" font-size="3.9" fill="#333" text-anchor="start" stroke="#333" stroke-width="0.07">10</text>
<line x1="533.6" y1="280.7" x2="534.8000000000001" y2="280.7" stroke="#555" stroke-width="0.5"/>
<text x="536.8000000000001" y="282.4" font-size="3.9" fill="#333" text-anchor="start" stroke="#333" stroke-width="0.07">0</text>
<text x="475.6" y="288.1" font-size="3.8" fill="#333" text-anchor="start" stroke="#333" stroke-width="0.068">−5.0</text>
<text x="501.1" y="288.1" font-size="3.8" fill="#333" text-anchor="middle" stroke="#333" stroke-width="0.068">TSS</text>
<text x="525.8000000000001" y="288.1" font-size="3.8" fill="#333" text-anchor="end" stroke="#333" stroke-width="0.068">5.0Kb</text>
</svg></body></html>
